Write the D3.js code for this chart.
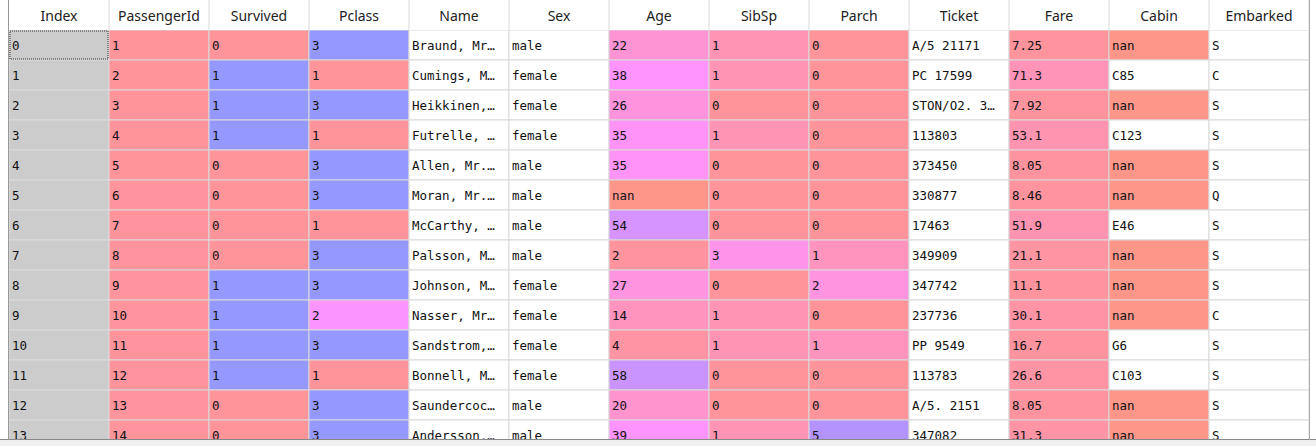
<!DOCTYPE html>
<html><head><meta charset="utf-8">
<script src="https://cdn.jsdelivr.net/npm/d3@7"></script>
<style>body{margin:0;background:#fff;overflow:hidden}</style>
</head><body><svg id="c" width="1316" height="446"></svg>
<script>
const columns = ["Index","PassengerId","Survived","Pclass","Name","Sex","Age","SibSp","Parch","Ticket","Fare","Cabin","Embarked"];
const passengerId = [1,2,3,4,5,6,7,8,9,10,11,12,13,14];
const survived = [0,1,1,1,0,0,0,0,1,1,1,1,0,0];
const pclass = [3,1,3,1,3,3,1,3,3,2,3,1,3,3];
const names = ["Braund, Mr…","Cumings, M…","Heikkinen,…","Futrelle, …","Allen, Mr.…","Moran, Mr.…","McCarthy, …","Palsson, M…","Johnson, M…","Nasser, Mr…","Sandstrom,…","Bonnell, M…","Saundercoc…","Andersson,…"];
const sex = ["male","female","female","female","male","male","male","male","female","female","female","female","male","male"];
const age = [22,38,26,35,35,null,54,2,27,14,4,58,20,39];
const sibsp = [1,1,0,1,0,0,0,3,0,1,1,0,0,1];
const parch = [0,0,0,0,0,0,0,1,2,0,1,0,0,5];
const tickets = ["A/5 21171","PC 17599","STON/O2. 3…","113803","373450","330877","17463","349909","347742","237736","PP 9549","113783","A/5. 2151","347082"];
const fare = [7.25,71.3,7.92,53.1,8.05,8.46,51.9,21.1,11.1,30.1,16.7,26.6,8.05,31.3];
const cabin = [null,"C85",null,"C123",null,null,"E46",null,null,null,"G6","C103",null,null];
const embarked = ["S","C","S","S","S","Q","S","S","S","C","S","S","S","S"];
// full-column ranges used by the colouring
const ranges = {PassengerId:[1,891],Survived:[0,1],Pclass:[1,3],Age:[0.42,80],SibSp:[0,8],Parch:[0,6],Fare:[0,512.33]};

const rows = passengerId.map((d,i)=>({
  Index:i, PassengerId:d, Survived:survived[i], Pclass:pclass[i], Name:names[i], Sex:sex[i],
  Age:age[i], SibSp:sibsp[i], Parch:parch[i], Ticket:tickets[i], Fare:fare[i], Cabin:cabin[i], Embarked:embarked[i]
}));

const svg = d3.select("#c");
const x = d3.scaleBand().domain(columns).range([9,1309]);
const y = d3.scaleBand().domain(d3.range(rows.length)).range([30,450]);

function cellColor(col, v){
  if (col==="Index") return "#cccccc";
  if (v===null) return "#ff968a";
  const r = ranges[col];
  if (!r) return "#ffffff";
  const t = (v-r[0])/(r[1]-r[0]);
  return d3.hsv ? null : d3.hsl((0.99-0.33*t)*360 % 360, 1, 0.79).formatHex();
}
function fmt(col,v){ return v===null ? "nan" : String(v); }

svg.append("rect").attr("width",1316).attr("height",446).attr("fill","#fff");

const body = svg.append("g");
rows.forEach((row,i)=>{
  columns.forEach(col=>{
    const v = row[col];
    body.append("rect").attr("x",x(col)).attr("y",y(i)).attr("width",x.bandwidth()).attr("height",y.bandwidth())
      .attr("fill",cellColor(col,v)).attr("stroke","#d9d9d9").attr("stroke-width",1);
    body.append("text").attr("x",x(col)+3).attr("y",y(i)+y.bandwidth()/2+5)
      .attr("font-family","DejaVu Sans Mono").attr("font-size",12.5).attr("fill","#111").text(fmt(col,v));
  });
});
// focus rectangle on first cell
body.append("rect").attr("x",x("Index")+1).attr("y",y(0)+1).attr("width",x.bandwidth()-2).attr("height",y.bandwidth()-2)
  .attr("fill","none").attr("stroke","#333").attr("stroke-dasharray","1,1");

const head = svg.append("g");
head.append("rect").attr("x",0).attr("y",0).attr("width",1316).attr("height",30).attr("fill","#fff");
columns.forEach(col=>{
  head.append("line").attr("x1",x(col)+x.bandwidth()).attr("x2",x(col)+x.bandwidth()).attr("y1",0).attr("y2",30).attr("stroke","#d9d9d9");
  head.append("text").attr("x",x(col)+x.bandwidth()/2).attr("y",21).attr("text-anchor","middle")
    .attr("font-family","Noto Sans").attr("font-size",14).attr("fill","#222").text(col);
});
svg.append("rect").attr("x",0).attr("y",439).attr("width",1316).attr("height",7).attr("fill","#f0f0f0");
svg.append("line").attr("x1",0).attr("x2",1316).attr("y1",439.5).attr("y2",439.5).attr("stroke","#888");
svg.append("line").attr("x1",8.5).attr("x2",8.5).attr("y1",0).attr("y2",440).attr("stroke","#999");
svg.append("line").attr("x1",1309.5).attr("x2",1309.5).attr("y1",0).attr("y2",440).attr("stroke","#aaa");
</script></body></html>
